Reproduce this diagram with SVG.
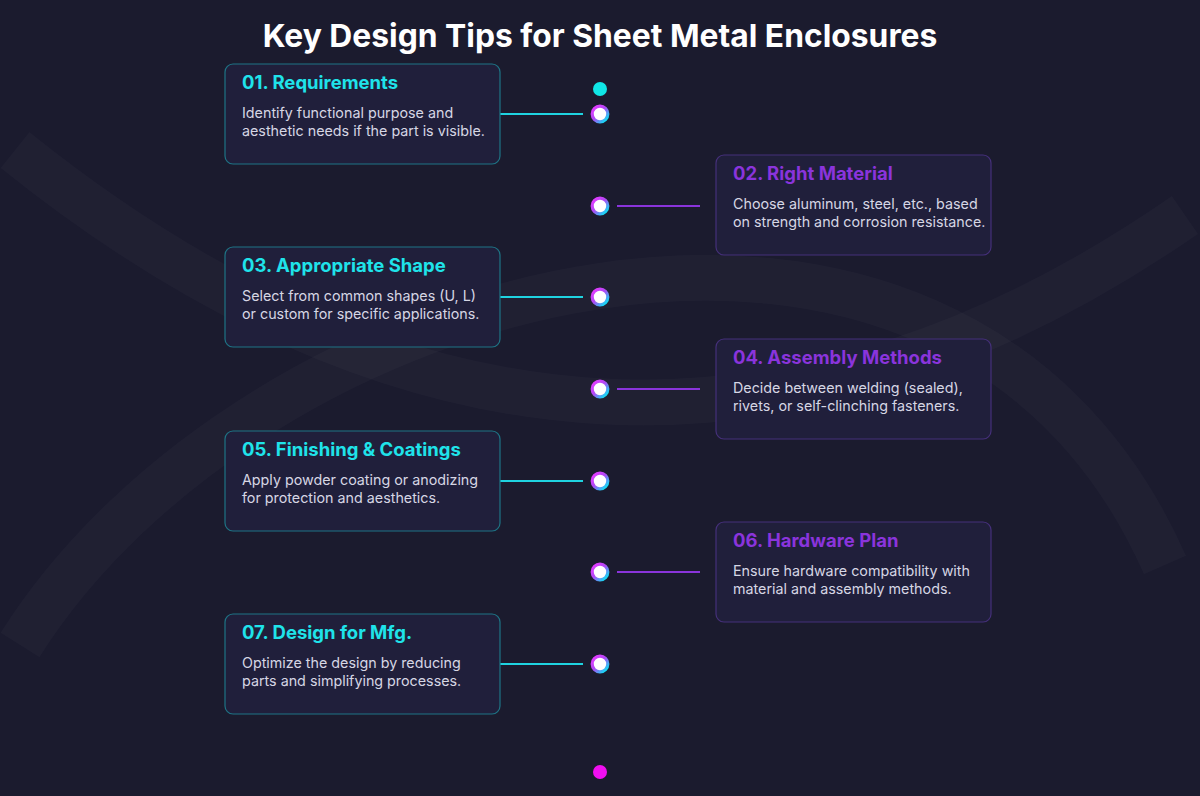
<svg xmlns="http://www.w3.org/2000/svg" width="1200" height="796" viewBox="0 0 1200 796">
<defs>
<linearGradient id="ring" x1="0.1" y1="0.1" x2="0.9" y2="0.9">
<stop offset="0" stop-color="#e03cff"/>
<stop offset="0.45" stop-color="#b048f5"/>
<stop offset="1" stop-color="#12dcf5"/>
</linearGradient>
<style>
.bg{fill:#1b1b2e}
.band{fill:none;stroke:#ffffff;stroke-opacity:0.024;stroke-width:46;stroke-linecap:butt}
.cardL{fill:#201f3b;stroke:#1e7485;stroke-width:1.2}
.cardR{fill:#201f3b;stroke:#45307a;stroke-width:1.2}
.hL{font-family:Inter,"Liberation Sans",sans-serif;font-weight:700;font-size:18.5px;fill:#1fe3ea}
.hR{font-family:Inter,"Liberation Sans",sans-serif;font-weight:700;font-size:18.5px;fill:#8a34dc}
.d{font-family:Inter,"Liberation Sans",sans-serif;font-size:14.3px;fill:#d6d6e4}
.lnL{stroke:#1fd3e0;stroke-width:2}
.lnR{stroke:#8a34dc;stroke-width:2}
.dot{fill:#ffffff;stroke:url(#ring);stroke-width:3.2}
.title{font-family:Inter,"Liberation Sans",sans-serif;font-weight:700;font-size:31.8px;fill:#ffffff}
</style>
</defs>
<rect class="bg" x="0" y="0" width="1200" height="796"/>
<g id="background">
<path class="band" d="M 15 150 Q 600 620 1185 215"/>
<path class="band" d="M 20 645 C 250 280 950 80 1165 565"/>
</g>
<text class="title" x="600" y="47" text-anchor="middle">Key Design Tips for Sheet Metal Enclosures</text>
<g id="connectors">
<line class="lnL" x1="500" y1="114" x2="583" y2="114"/>
<line class="lnR" x1="617" y1="206" x2="700" y2="206"/>
<line class="lnL" x1="500" y1="297" x2="583" y2="297"/>
<line class="lnR" x1="617" y1="389" x2="700" y2="389"/>
<line class="lnL" x1="500" y1="481" x2="583" y2="481"/>
<line class="lnR" x1="617" y1="572" x2="700" y2="572"/>
<line class="lnL" x1="500" y1="664" x2="583" y2="664"/>
</g>
<g id="timeline">
<circle cx="600" cy="89" r="7" fill="#10e6e6"/>
<circle class="dot" cx="600" cy="114" r="7.8"/>
<circle class="dot" cx="600" cy="206" r="7.8"/>
<circle class="dot" cx="600" cy="297" r="7.8"/>
<circle class="dot" cx="600" cy="389" r="7.8"/>
<circle class="dot" cx="600" cy="481" r="7.8"/>
<circle class="dot" cx="600" cy="572" r="7.8"/>
<circle class="dot" cx="600" cy="664" r="7.8"/>
<circle cx="600" cy="772" r="7" fill="#f00ff0"/>
</g>
<g id="node1">
<rect class="cardL" x="225" y="64" width="275" height="100" rx="8"/>
<text class="hL" x="242" y="89">01. Requirements</text>
<text class="d" x="242" y="118">Identify functional purpose and</text>
<text class="d" x="242" y="136">aesthetic needs if the part is visible.</text>
</g>
<g id="node2">
<rect class="cardR" x="716" y="155" width="275" height="100" rx="8"/>
<text class="hR" x="733" y="180">02. Right Material</text>
<text class="d" x="733" y="209">Choose aluminum, steel, etc., based</text>
<text class="d" x="733" y="227">on strength and corrosion resistance.</text>
</g>
<g id="node3">
<rect class="cardL" x="225" y="247" width="275" height="100" rx="8"/>
<text class="hL" x="242" y="272">03. Appropriate Shape</text>
<text class="d" x="242" y="301">Select from common shapes (U, L)</text>
<text class="d" x="242" y="319">or custom for specific applications.</text>
</g>
<g id="node4">
<rect class="cardR" x="716" y="339" width="275" height="100" rx="8"/>
<text class="hR" x="733" y="364">04. Assembly Methods</text>
<text class="d" x="733" y="393">Decide between welding (sealed),</text>
<text class="d" x="733" y="411">rivets, or self-clinching fasteners.</text>
</g>
<g id="node5">
<rect class="cardL" x="225" y="431" width="275" height="100" rx="8"/>
<text class="hL" x="242" y="456">05. Finishing &amp; Coatings</text>
<text class="d" x="242" y="485">Apply powder coating or anodizing</text>
<text class="d" x="242" y="503">for protection and aesthetics.</text>
</g>
<g id="node6">
<rect class="cardR" x="716" y="522" width="275" height="100" rx="8"/>
<text class="hR" x="733" y="547">06. Hardware Plan</text>
<text class="d" x="733" y="576">Ensure hardware compatibility with</text>
<text class="d" x="733" y="594">material and assembly methods.</text>
</g>
<g id="node7">
<rect class="cardL" x="225" y="614" width="275" height="100" rx="8"/>
<text class="hL" x="242" y="639">07. Design for Mfg.</text>
<text class="d" x="242" y="668">Optimize the design by reducing</text>
<text class="d" x="242" y="686">parts and simplifying processes.</text>
</g>
</svg>
